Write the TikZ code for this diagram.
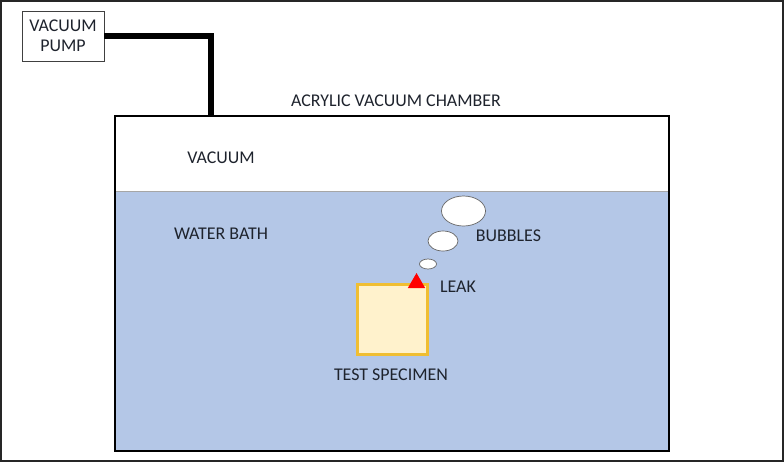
\documentclass[tikz,border=0pt]{standalone}
\usepackage{fontspec}
\setmainfont{Carlito}
\usepackage{xcolor}
\usetikzlibrary{shapes.geometric, positioning}
\definecolor{waterblue}{RGB}{180,199,231}
\definecolor{specfill}{RGB}{255,242,204}
\definecolor{specline}{RGB}{240,190,50}
\definecolor{labelink}{RGB}{30,35,45}

\begin{document}
\begin{tikzpicture}[
  label/.style={font=\fontsize{10.2}{11.5}\selectfont, text=labelink, inner sep=0pt, align=center},
  bubble/.style={ellipse, draw=gray!80!black, line width=0.4pt, fill=white, inner sep=0pt},
  pipe/.style={line width=3.3pt, black}
]
\useasboundingbox (0,0) rectangle (15.68,-9.26);
\node[draw=black!85, line width=0.6pt, minimum width=15.64cm, minimum height=9.2cm, inner sep=0pt] (frame) at (7.84,-4.62) {};

\node[fill=waterblue, minimum width=11.08cm, minimum height=5.18cm, inner sep=0pt] (water) at (7.84,-6.43) {};
\draw[gray!70, line width=0.5pt] (water.north west) -- (water.north east);
\node[draw=black, line width=1.6pt, minimum width=11.08cm, minimum height=6.7cm, inner sep=0pt] (chamber) at (7.84,-5.67) {};

\node[draw=black!75, line width=0.5pt, fill=white, label, minimum width=1.64cm, minimum height=1cm] (pump) at (1.26,-0.72) {VACUUM\\PUMP};
\coordinate (inlet) at (4.22,-2.32);
\draw[pipe] (pump.east) -| (inlet);

\node[draw=specline, line width=1.9pt, fill=specfill, minimum width=1.4cm, minimum height=1.4cm, inner sep=0pt] (specimen) at (7.85,-6.39) {};
\node[isosceles triangle, isosceles triangle apex angle=60, shape border rotate=90, fill=red, minimum height=0.3cm, inner sep=0pt] (leak) at (8.33,-5.66) {};

\node[bubble, minimum width=0.88cm, minimum height=0.6cm] (big) at (9.27,-4.22) {};
\node[bubble, minimum width=0.6cm, minimum height=0.4cm] (mid) at (8.86,-4.82) {};
\node[bubble, minimum width=0.34cm, minimum height=0.2cm] (small) at (8.56,-5.28) {};

\node[label] (chambertxt) at (7.92,-2.01) {ACRYLIC VACUUM CHAMBER};
\node[label] (vacuumtxt) at (4.42,-3.15) {VACUUM};
\node[label] (bathtxt) at (4.42,-4.68) {WATER BATH};
\node[label] (bubblestxt) at (10.17,-4.71) {BUBBLES};
\node[label] (leaktxt) at (9.16,-5.74) {LEAK};
\node[label] (spectxt) at (7.82,-7.49) {TEST SPECIMEN};
\end{tikzpicture}
\end{document}
